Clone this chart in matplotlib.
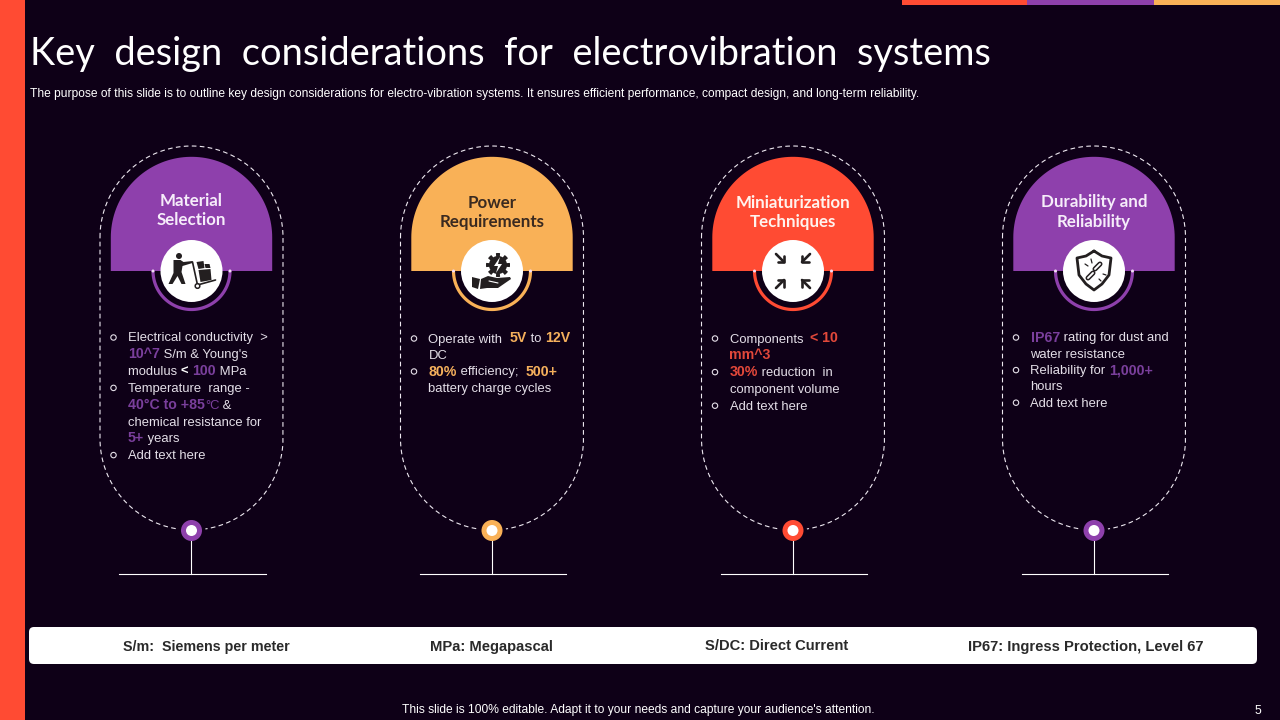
import numpy as np
import matplotlib
matplotlib.use("Agg")
import matplotlib.pyplot as plt
from matplotlib.patches import Rectangle, Circle, Polygon, PathPatch, FancyBboxPatch
from matplotlib.path import Path

# colours
BG = "#0E0017"
RED = "#FF4B33"
PURPLE = "#8E40AC"
ORANGE = "#F9B157"
DARK = "#231F20"
BODY = "#E4DFE8"

# text content
title = "Key  design  considerations  for  electrovibration  systems"
subtitle = ("The purpose of this slide is to outline key design considerations for "
            "electro-vibration systems. It ensures efficient performance, compact design, "
            "and long-term reliability.")
footer = "This slide is 100% editable. Adapt it to your needs and capture your audience's attention."
page_no = "5"

card_titles = [["Material", "Selection"],
               ["Power", "Requirements"],
               ["Miniaturization", "Techniques"],
               ["Durability and", "Reliability"]]
card_title_colors = ["#F6EDFA", "#3A2A20", "#FFF3EE", "#F6EDFA"]
card_colors = [PURPLE, ORANGE, RED, PURPLE]
accent_colors = ["#7A3F9C", "#F5B05C", "#E2483A", "#7A3F9C"]

# body text: each line is a list of (text, kind), 0 plain, 1 accent, 2 bold white, 3 thin accent
card1_lines = [[("Electrical conductivity  >", 0)],
               [("10^7", 1), (" S/m & Young's", 0)],
               [("modulus ", 0), ("<", 2), (" ", 0), ("100", 1), (" MPa", 0)],
               [("Temperature  range -", 0)],
               [("40°C to +85", 1), ("°C", 3), (" &", 0)],
               [("chemical resistance for", 0)],
               [("5+", 1), (" years", 0)],
               [("Add text here", 0)]]
card1_bullets = [True, False, False, True, False, False, False, True]

card2_lines = [[("Operate with  ", 0), ("5V", 1), (" to ", 0), ("12V", 1)],
               [("DC", 0)],
               [("80%", 1), (" efficiency;  ", 0), ("500+", 1)],
               [("battery charge cycles", 0)]]
card2_bullets = [True, False, True, False]

card3_lines = [[("Components  ", 0), ("< 10", 1)],
               [("mm^3", 1)],
               [("30%", 1), (" reduction  in", 0)],
               [("component volume", 0)],
               [("Add text here", 0)]]
card3_bullets = [True, False, True, False, True]

card4_lines = [[("IP67", 1), (" rating for dust and", 0)],
               [("water resistance", 0)],
               [("Reliability for ", 0), ("1,000+", 1)],
               [("hours", 0)],
               [("Add text here", 0)]]
card4_bullets = [True, False, True, False, True]

all_lines = [card1_lines, card2_lines, card3_lines, card4_lines]
all_bullets = [card1_bullets, card2_bullets, card3_bullets, card4_bullets]

legend_items = ["S/m:  Siemens per meter", "MPa: Megapascal",
                "S/DC: Direct Current", "IP67: Ingress Protection, Level 67"]

# layout in pixels, text y values are baselines
card_x = [191.5, 492, 793, 1094]
title_y = [[206, 225], [207.5, 226.5], [207.5, 226.5], [207.5, 226.5]]
body_start = [341.5, 342.5, 342.5, 341.5]
body_pitch = [16.8, 16.5, 16.8, 16.3]
legend_x = [206.5, 491.5, 777, 1085.5]
legend_size = [10.3, 10.65, 10.65, 10.65]

fig = plt.figure(figsize=(12.8, 7.2), dpi=100, facecolor=BG)
ax = fig.add_axes([0, 0, 1, 1])
ax.set_xlim(0, 1280)
ax.set_ylim(720, 0)
ax.axis("off")
renderer = fig.canvas.get_renderer()


def text_w(s, **kw):
    # measure with guard bars so that spaces at the ends are counted
    a = ax.text(0, 0, "|" + s + "|", **kw)
    b = ax.text(0, 0, "||", **kw)
    w = a.get_window_extent(renderer).width - b.get_window_extent(renderer).width
    a.remove()
    b.remove()
    return w


def arc_pts(cx, cy, r, a0, a1, n=80):
    t = np.radians(np.linspace(a0, a1, n))
    return np.column_stack([cx + r * np.cos(t), cy - r * np.sin(t)])


def poly(pts, color=DARK, z=6):
    ax.add_patch(Polygon(pts, closed=True, fc=color, ec="none", zorder=z))


def stroke(pts, color=DARK, lw=1.5, z=6):
    pts = np.array(pts)
    ax.plot(pts[:, 0], pts[:, 1], color=color, lw=lw, zorder=z,
            solid_capstyle="round", solid_joinstyle="round")


def icon_cart(cx, cy):
    ax.add_patch(Circle((cx - 12.5, cy - 15), 3, fc=DARK, ec="none", zorder=6))
    poly([(cx - 18, cy - 11), (cx - 11, cy - 11), (cx - 8, cy - 9), (cx + 1, cy - 10),
          (cx + 1, cy - 8), (cx - 9, cy - 5), (cx - 10, cy + 1), (cx - 6, cy + 13), (cx - 10, cy + 13),
          (cx - 14, cy + 5), (cx - 19, cy + 13), (cx - 23, cy + 13), (cx - 18, cy + 2)])
    stroke([(cx + 1, cy - 9), (cx + 6, cy + 14), (cx + 24, cy + 9)], lw=1.2)
    ax.add_patch(Circle((cx + 6, cy + 15), 2.3, fc="white", ec=DARK, lw=1.1, zorder=7))
    poly([(cx + 7, cy - 1), (cx + 19, cy - 2), (cx + 20, cy + 9), (cx + 9, cy + 11)])
    poly([(cx + 5, cy - 9), (cx + 12, cy - 10), (cx + 13, cy - 3), (cx + 7, cy - 2)])
    poly([(cx + 13, cy - 7), (cx + 18, cy - 7), (cx + 19, cy - 3), (cx + 14, cy - 3)])


def icon_power(cx, cy):
    gx, gy = cx + 6, cy - 6
    t = np.radians(np.arange(0, 360, 2))
    r = 9 + 3 * (np.cos(8 * t) > 0)
    poly(np.column_stack([gx + r * np.cos(t), gy + r * np.sin(t)]))
    poly([(gx + 2, gy - 8), (gx - 4, gy + 1), (gx, gy + 1), (gx - 2, gy + 8),
          (gx + 4, gy - 1), (gx, gy - 1)], color="white", z=7)
    poly([(cx - 20, cy + 6), (cx - 12, cy + 8), (cx - 14, cy + 18), (cx - 20, cy + 16)])
    poly([(cx - 11, cy + 8), (cx - 4, cy + 5), (cx + 5, cy + 7), (cx + 18, cy + 6), (cx + 19, cy + 8),
          (cx + 6, cy + 17), (cx - 5, cy + 17), (cx - 12, cy + 18)])
    stroke([(cx - 3, cy + 10), (cx + 6, cy + 12)], color="white", lw=0.8, z=7)


def icon_arrows(cx, cy):
    for sx in (-1, 1):
        for sy in (-1, 1):
            tip = np.array([cx + sx * 9, cy + sy * 9])
            tail = np.array([cx + sx * 17, cy + sy * 17])
            stroke([tail, tip], lw=1.9)
            stroke([tip + [sx * 6.5, 0], tip, tip + [0, sy * 6.5]], lw=1.9)


def icon_shield(cx, cy):
    outline = [(cx, cy - 20), (cx + 8, cy - 15), (cx + 17, cy - 13), (cx + 15, cy + 4),
               (cx + 8, cy + 13), (cx, cy + 19), (cx - 8, cy + 13), (cx - 15, cy + 4),
               (cx - 17, cy - 13), (cx - 8, cy - 15), (cx, cy - 20)]
    stroke(outline, lw=2)
    stroke([(cx - 6, cy + 7), (cx - 1, cy + 2)], lw=3.6)
    stroke([(cx - 6, cy + 7), (cx - 1, cy + 2)], color="white", lw=1.4, z=7)
    stroke([(cx + 1, cy - 2), (cx + 6, cy - 7)], lw=3.6)
    stroke([(cx + 1, cy - 2), (cx + 6, cy - 7)], color="white", lw=1.4, z=7)
    for a, b in [((-9, -7), (-6, -5)), ((-3, -12), (-2, -8)), ((5, 8), (7, 10)), ((9, 3), (12, 4))]:
        stroke([(cx + a[0], cy + a[1]), (cx + b[0], cy + b[1])], lw=0.9)


icons = [icon_cart, icon_power, icon_arrows, icon_shield]

# edge bars
ax.add_patch(Rectangle((0, 0), 25, 720, fc=RED, ec="none"))
ax.add_patch(Rectangle((902, 0), 125, 5, fc=RED, ec="none"))
ax.add_patch(Rectangle((1027, 0), 127, 5, fc=PURPLE, ec="none"))
ax.add_patch(Rectangle((1154, 0), 126, 5, fc=ORANGE, ec="none"))

# heading
ax.text(30, 65.5, title, fontsize=27.4, family="Lato", color="white", va="baseline", ha="left")
ax.text(30, 97, subtitle, fontsize=8.65, family="Liberation Sans", color="white", va="baseline", ha="left")

for i, cx in enumerate(card_x):
    col = card_colors[i]
    # dashed outline
    top = arc_pts(cx, 237.5, 91.5, 180, 0)
    bot = arc_pts(cx, 438.5, 91.5, 0, -180)
    pts = np.vstack([top, bot, top[:1]])
    ax.add_patch(PathPatch(Path(pts), fc="none", ec="#EDE8F0", lw=0.8, ls=(0, (4.2, 3.0)), zorder=2))

    # coloured head
    head = np.vstack([arc_pts(cx, 237.5, 80.7, 180, 0), [[cx + 80.7, 271], [cx - 80.7, 271]]])
    poly(head, color=col, z=3)
    arc = arc_pts(cx, 271, 38.5, 0, -180)
    ax.plot(arc[:, 0], arc[:, 1], color=col, lw=2.3, zorder=3, solid_capstyle="butt")
    for sx in (-1, 1):
        ax.add_patch(Circle((cx + sx * 38.5, 271), 1.5, fc="#F3DDF5", ec="none", zorder=4))
    ax.add_patch(Circle((cx, 271), 31, fc="white", ec="none", zorder=5))
    icons[i](cx, 271)

    for s, y in zip(card_titles[i], title_y[i]):
        ax.text(cx, y, s, fontsize=12.2, family="Lato", weight="bold", color=card_title_colors[i],
                ha="center", va="baseline", zorder=6)

    # bullets and mixed-colour lines
    y = body_start[i]
    for line, bullet in zip(all_lines[i], all_bullets[i]):
        if bullet:
            ax.add_patch(Circle((cx - 78, y - 4), 2.7, fc="none", ec=BODY, lw=0.8, zorder=6))
        x = cx - 63.5
        for s, kind in line:
            kw = dict(fontsize=9.35, family="Liberation Sans", va="baseline", ha="left")
            if kind == 1:
                kw["weight"] = "bold"
                kw["fontsize"] = 10.2
            if kind == 2:
                kw["weight"] = "bold"
            w = text_w(s, **kw)
            color = accent_colors[i] if kind in (1, 3) else "white" if kind == 2 else BODY
            ax.text(x, y, s, color=color, zorder=6, **kw)
            x += w
        y += body_pitch[i]

    # pin and stand
    ax.add_patch(Circle((cx, 530.5), 14, fc=BG, ec="none", zorder=3))
    ax.add_patch(Circle((cx, 530.5), 10.5, fc=col, ec="none", zorder=4))
    ax.add_patch(Circle((cx, 530.5), 5.5, fc="white", ec="none", zorder=5))
    ax.plot([cx - 0.5, cx - 0.5], [541, 574], color="white", lw=0.8, zorder=3)
    ax.plot([cx - 72.5, cx + 74], [574, 574], color="white", lw=0.8, zorder=3)

# abbreviations strip
ax.add_patch(FancyBboxPatch((32, 630), 1222, 31, boxstyle="round,pad=3,rounding_size=5",
                            fc="white", ec="none", zorder=2))
for s, x, fs in zip(legend_items, legend_x, legend_size):
    ax.text(x, 650.5, s, fontsize=fs, family="Liberation Sans", weight="bold", color="#2A2A2A",
            ha="center", va="baseline", zorder=3)

ax.text(638.5, 713.5, footer, fontsize=8.65, family="Liberation Sans", color="white", ha="center", va="baseline")
ax.text(1258, 714, page_no, fontsize=8.7, family="Liberation Sans", color="white", ha="center", va="baseline")

fig.savefig("out.png", dpi=100, facecolor=BG)
